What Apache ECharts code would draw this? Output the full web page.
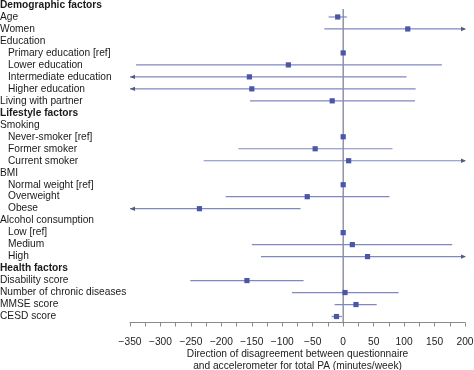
<!DOCTYPE html>
<html>
<head>
<meta charset="utf-8">
<script src="https://cdn.jsdelivr.net/npm/echarts@6/dist/echarts.min.js"></script>
<style>
html,body{margin:0;padding:0;background:#fff;}
#main{width:474px;height:370px;}
</style>
</head>
<body>
<div id="main"></div>
<script>
// Row labels (top to bottom); kind: h = bold header, t = top-level item, s = indented sub-item
const labels = [
  'Demographic factors','Age','Women','Education','Primary education [ref]','Lower education',
  'Intermediate education','Higher education','Living with partner','Lifestyle factors','Smoking',
  'Never-smoker [ref]','Former smoker','Current smoker','BMI','Normal weight [ref]','Overweight',
  'Obese','Alcohol consumption','Low [ref]','Medium','High','Health factors','Disability score',
  'Number of chronic diseases','MMSE score','CESD score'
];
const kinds = ['h','t','t','t','s','s','s','s','t','h','t','s','s','s','t','s','s','s','t','s','s','s','h','t','t','t','t'];
// Estimates (minutes/week); null = no estimate on that row
const estimates = [null,-9,106,null,0,-90,-154,-150,-18,null,null,0,-46,9,null,0,-59,-236,null,0,15,40,null,-158,3,21,-11];
// Lower / upper CI bounds; 'off' = beyond axis range (drawn as arrow)
const lower = [null,-24,-31,null,null,-340,'off','off',-153,null,null,null,-172,-229,null,null,-193,'off',null,null,-150,-135,null,-251,-84,-14,-19];
const upper = [null,6,'off',null,null,162,104,119,118,null,null,null,81,'off',null,null,76,-70,null,null,179,'off',null,-65,91,55,-2];
const xTicks = {min:-350, max:200, interval:50};

const chart = echarts.init(document.getElementById('main'), null, {renderer:'canvas'});
const FONT = 'Liberation Sans, Arial, Helvetica, sans-serif';
const CI_COLOR = '#8188bf';
const MARK_COLOR = '#4a56a6';

const data = [];
estimates.forEach((e, i) => {
  if (e === null) return;
  const lo = lower[i], hi = upper[i];
  data.push([
    e, i,
    lo === null ? e : (lo === 'off' ? xTicks.min : lo),
    hi === null ? e : (hi === 'off' ? xTicks.max : hi),
    lo === 'off' ? 1 : 0,
    hi === 'off' ? 1 : 0,
    lo === null ? 0 : 1
  ]);
});

function renderCI(params, api) {
  const y = api.coord([0, api.value(1)])[1];
  const xe = api.coord([api.value(0), api.value(1)])[0];
  const xl = api.coord([api.value(2), api.value(1)])[0];
  const xh = api.coord([api.value(3), api.value(1)])[0];
  const children = [];
  if (api.value(6)) {
    children.push({type:'line', shape:{x1:xl, y1:y, x2:xh, y2:y}, style:{stroke:CI_COLOR, lineWidth:1.2}});
    if (api.value(4)) {
      children.push({type:'polygon', shape:{points:[[xl, y],[xl+5, y-2.2],[xl+5, y+2.2]]}, style:{fill:'#555a80'}});
    }
    if (api.value(5)) {
      children.push({type:'polygon', shape:{points:[[xh+1, y],[xh-4, y-2.2],[xh-4, y+2.2]]}, style:{fill:'#555a80'}});
    }
  }
  children.push({type:'rect', shape:{x:xe-2.6, y:y-2.6, width:5.2, height:5.2}, style:{fill:MARK_COLOR}});
  return {type:'group', children};
}

function renderZero(params, api) {
  const cs = params.coordSys;
  const p = api.coord([0, 0]);
  return {type:'line', shape:{x1:p[0], y1:p[1]+4, x2:p[0], y2:cs.y+cs.height}, style:{stroke:'#777a92', lineWidth:1.2}};
}

chart.setOption({
  animation:false,
  backgroundColor:'#fff',
  grid:{left:130, right:9, top:-1, bottom:47.5, containLabel:false, outerBoundsMode:'none'},
  xAxis:{
    type:'value', min:xTicks.min, max:xTicks.max, interval:xTicks.interval,
    axisLine:{show:true, lineStyle:{color:'#8a8a8a', width:1}},
    axisTick:{show:true, length:4, lineStyle:{color:'#8a8a8a'}},
    minorTick:{show:true, splitNumber:2, length:4, lineStyle:{color:'#8a8a8a'}},
    splitLine:{show:false},
    axisLabel:{margin:15, fontFamily:FONT, fontSize:10.2, color:'#222',
      formatter: v => String(v).replace('-', '\u2212')},
    name:'Direction of disagreement between questionnaire\nand accelerometer for total PA (minutes/week)',
    nameLocation:'middle', nameGap:26, nameMoveOverlap:false,
    nameTextStyle:{fontFamily:FONT, fontSize:10.2, color:'#222', lineHeight:12}
  },
  yAxis:{
    type:'category', inverse:true, data:labels,
    axisLine:{show:false}, axisTick:{show:false}, splitLine:{show:false},
    axisLabel:{
      interval:0, align:'left', margin:130,
      formatter:(v, idx) => {
        const k = kinds[idx];
        return '{' + k + '|' + v + '}';
      },
      rich:{
        h:{fontFamily:FONT, fontSize:10.2, fontWeight:'bold', color:'#1a1a1a'},
        t:{fontFamily:FONT, fontSize:10.2, color:'#1a1a1a'},
        s:{fontFamily:FONT, fontSize:10.2, color:'#1a1a1a', padding:[0,0,0,8]}
      }
    }
  },
  series:[
    {type:'custom', renderItem:renderZero, data:[[0,0]], silent:true, z:1},
    {type:'custom', renderItem:renderCI, data:data, encode:{x:0, y:1}, silent:true, z:2}
  ]
});
</script>
</body>
</html>
